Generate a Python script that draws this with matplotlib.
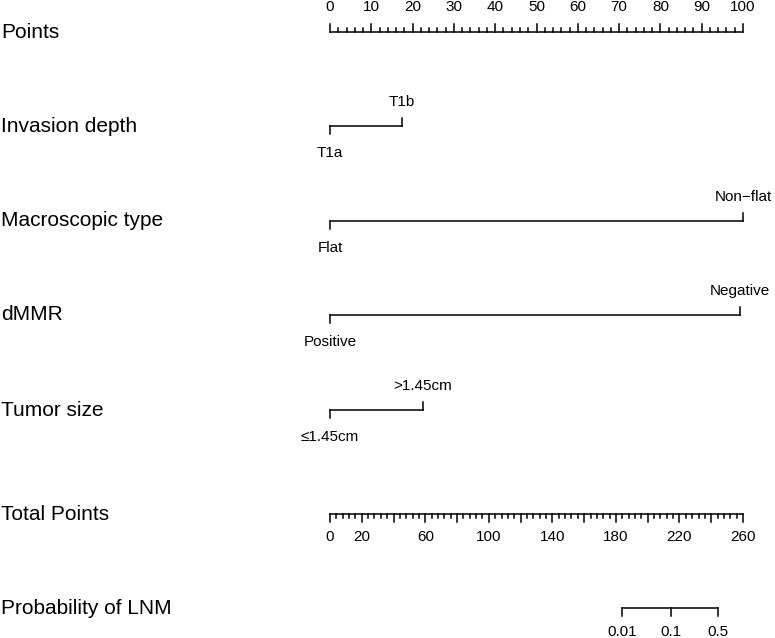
import matplotlib
matplotlib.use("Agg")
import matplotlib.pyplot as plt
import numpy as np

row_labels = ["Points", "Invasion depth", "Macroscopic type", "dMMR", "Tumor size", "Total Points", "Probability of LNM"]
var_levels = [["T1a", "T1b"], ["Flat", "Non\u2212flat"], ["Positive", "Negative"], ["\u22641.45cm", ">1.45cm"]]
var_points = [[0, 17.4], [0, 100], [0, 99.2], [0, 22.5]]
total_labels = [0, 20, 60, 100, 140, 180, 220, 260]
prob_labels = ["0.01", "0.1", "0.5"]
prob_total = [183.8, 214.7, 244.3]

W, H = 775, 638
fig = plt.figure(figsize=(W/100, H/100), dpi=100)
ax = fig.add_axes([0, 0, 1, 1])
ppx = 4.13  # px per point
ax.set_xlim(-330/ppx, (W-330)/ppx)
ax.set_ylim(H, 0)
ax.axis("off")
lw = 1.1
tkfs = 11
fam = "Liberation Sans"

row_y = [32, 126, 221, 315, 410, 514, 608]
for lab, y in zip(row_labels, row_y):
    ax.text(-329/ppx, y, lab, fontsize=15, va="center", ha="left", family=fam)

# Points axis
y = row_y[0]
ax.plot([0, 100], [y, y], color="black", lw=lw)
for v in range(0, 101, 2):
    L = 8 if v % 10 == 0 else 4
    ax.plot([v, v], [y, y-L], color="black", lw=lw)
for v in range(0, 101, 10):
    ax.text(v, 7, str(v), ha="center", va="center", fontsize=tkfs, family=fam)

# variables
for levels, pts, y in zip(var_levels, var_points, row_y[1:5]):
    ax.plot(pts, [y, y], color="black", lw=lw)
    ax.plot([pts[0], pts[0]], [y, y+8], color="black", lw=lw)
    ax.plot([pts[1], pts[1]], [y, y-8], color="black", lw=lw)
    ax.text(pts[0], y+27, levels[0], ha="center", va="center", fontsize=tkfs, family=fam)
    ax.text(pts[1], y-24, levels[1], ha="center", va="center", fontsize=tkfs, family=fam)

# Total points
sc = 100/260
y = row_y[5]
ax.plot([0, 100], [y, y], color="black", lw=lw)
for v in range(0, 261, 4):
    L = 8 if v % 20 == 0 else 4
    ax.plot([v*sc, v*sc], [y, y+L], color="black", lw=lw)
for v in total_labels:
    ax.text(v*sc, y+23, str(v), ha="center", va="center", fontsize=tkfs, family=fam)

# Probability
y = row_y[6]
xs = [t*sc for t in prob_total]
ax.plot([xs[0], xs[-1]], [y, y], color="black", lw=lw)
for x, l in zip(xs, prob_labels):
    ax.plot([x, x], [y, y+8], color="black", lw=lw)
    ax.text(x, y+24, l, ha="center", va="center", fontsize=tkfs, family=fam)

fig.savefig("out.png", dpi=100)
